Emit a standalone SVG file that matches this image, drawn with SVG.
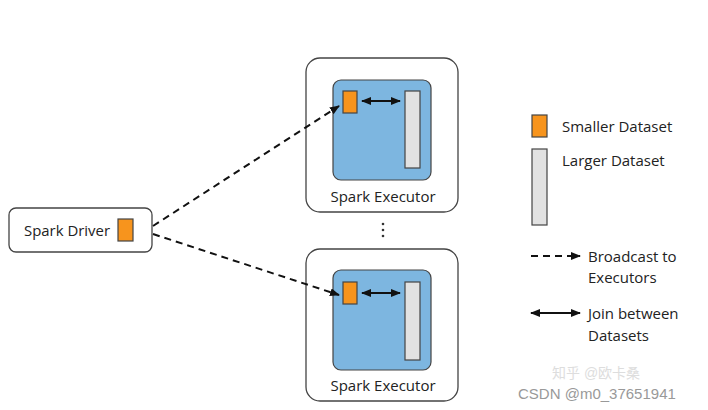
<svg xmlns="http://www.w3.org/2000/svg" width="708" height="410" viewBox="0 0 708 410">
<defs>
<marker id="ah" markerWidth="10" markerHeight="8" refX="9" refY="4" orient="auto-start-reverse" markerUnits="userSpaceOnUse"><path d="M0,0 L10,4 L0,8 Z" fill="#111"/></marker>
<style>
.t{font-family:"Open Sans","Liberation Sans",sans-serif;font-size:15px;fill:#222}
.box{fill:#fff;stroke:#444;stroke-width:1.3}
.inner{fill:#7db6e0;stroke:#444;stroke-width:1.2}
.sm{fill:#f7941d;stroke:#444;stroke-width:1.2}
.lg{fill:#e2e2e2;stroke:#444;stroke-width:1.2}
.dash{stroke:#111;stroke-width:2;stroke-dasharray:7,5;fill:none}
.solid{stroke:#111;stroke-width:2;fill:none}
</style>
</defs>
<rect width="708" height="410" fill="#fff"/>
<g id="driver">
<rect class="box" x="9" y="208" width="143" height="44" rx="7"/>
<text class="t" x="24" y="236" textLength="86" lengthAdjust="spacingAndGlyphs">Spark Driver</text>
<rect class="sm" x="118" y="219" width="15" height="22"/>
</g>
<g id="executor1">
<rect class="box" x="306" y="58" width="152" height="154" rx="14"/>
<rect class="inner" x="333" y="80" width="98" height="100" rx="8"/>
<rect class="sm" x="343" y="91" width="14" height="22"/>
<rect class="lg" x="405" y="91" width="15" height="77"/>
<text class="t" x="383" y="202" text-anchor="middle">Spark Executor</text>
</g>
<g id="executor2">
<rect class="box" x="306" y="249" width="152" height="152" rx="14"/>
<rect class="inner" x="333" y="270" width="98" height="100" rx="8"/>
<rect class="sm" x="343" y="282" width="14" height="22"/>
<rect class="lg" x="405" y="282" width="15" height="78"/>
<text class="t" x="383" y="391" text-anchor="middle">Spark Executor</text>
</g>
<g id="dots" fill="#333">
<circle cx="383" cy="224" r="1.3"/><circle cx="383" cy="230" r="1.3"/><circle cx="383" cy="236" r="1.3"/>
</g>
<g id="connectors">
<line class="dash" x1="153" y1="226" x2="339" y2="106" marker-end="url(#ah)"/>
<line class="dash" x1="153" y1="234" x2="339" y2="295" marker-end="url(#ah)"/>
<line class="solid" x1="362" y1="101" x2="400" y2="101" marker-start="url(#ah)" marker-end="url(#ah)"/>
<line class="solid" x1="362" y1="293" x2="400" y2="293" marker-start="url(#ah)" marker-end="url(#ah)"/>
</g>
<g id="legend">
<rect class="sm" x="532" y="115" width="15" height="22"/>
<text class="t" x="562" y="132">Smaller Dataset</text>
<rect class="lg" x="532" y="149" width="15" height="76"/>
<text class="t" x="562" y="166">Larger Dataset</text>
<line class="dash" x1="531" y1="256" x2="580" y2="256" marker-end="url(#ah)"/>
<text class="t" x="588" y="262">Broadcast to</text>
<text class="t" x="588" y="283">Executors</text>
<line class="solid" x1="531" y1="313" x2="580" y2="313" marker-start="url(#ah)" marker-end="url(#ah)"/>
<text class="t" x="588" y="319">Join between</text>
<text class="t" x="588" y="341">Datasets</text>
</g>
<g id="watermark" font-family="'Liberation Sans','Noto Sans CJK SC',sans-serif" font-size="14">
<text x="552" y="378" fill="#ddd">知乎 @欧卡桑</text>
<text x="518" y="399" fill="#999" font-size="15">CSDN @m0_37651941</text>
</g>
</svg>
